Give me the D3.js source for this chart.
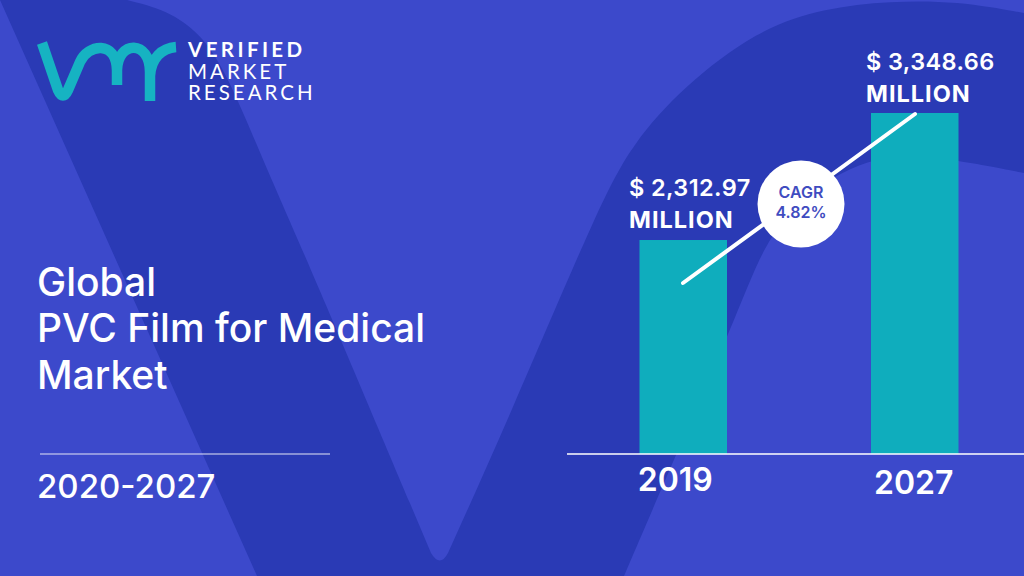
<!DOCTYPE html>
<html lang="en">
<head>
  <meta charset="UTF-8">
  <title>Global PVC Film for Medical Market</title>
  <script src="https://d3js.org/d3.v7.min.js"></script>
  <style>
    html, body { margin: 0; padding: 0; background: #3c49cb; overflow: hidden; }
    svg { display: block; }
    text { fill: #fff; font-family: Inter, "Noto Sans", sans-serif; }
    .title { font-size: 39px; font-weight: 500; }
    .period { font-size: 33px; font-weight: 500; }
    .value { font-size: 23.5px; font-weight: 600; letter-spacing: 0.4px; }
    .logo { font-family: Lato, sans-serif; font-size: 20.5px; letter-spacing: 3px; }
    .axis text { font-size: 32px; font-weight: 600; }
    .cagr { fill: #3f4cc0; font-size: 16px; font-weight: 600; text-anchor: middle; }
  </style>
</head>
<body>
  <svg width="1024" height="576"></svg>

  <script>
    const years = ["2019", "2027"];
    const marketSize = [2312.97, 3348.66];
    const valueLines = [["$ 2,312.97", "MILLION"], ["$ 3,348.66", "MILLION"]];
    const titleLines = ["Global", "PVC Film for Medical", "Market"];
    const period = "2020-2027";
    const cagrLines = ["CAGR", "4.82%"];
    const logoLines = ["VERIFIED", "MARKET", "RESEARCH"];

    const svg = d3.select("svg");

    // background V, outline
    const outline = d3.line().curve(d3.curveBasis);
    const upperEdge = [[448, 553], [508, 420], [600, 203], [633, 143], [683, 87], [757, 30], [824, 8], [890, 1], [957, 1], [1024, 13]];
    const lowerEdge = [[1024, 173], [933, 155], [867, 156], [800, 197], [763, 247], [743, 300], [676, 455], [624, 576]];
    const leftEdge = [[431, 553], [303, 250], [267, 170], [227, 73], [200, 33], [167, 10], [127, 0]];

    svg.append("rect").attr("width", 1024).attr("height", 576).attr("fill", "#3c49cb");
    svg.append("path")
      .attr("fill", "#2a3ab5")
      .attr("d", "M0 0 L257 576 L624 576 " + outline(lowerEdge.slice().reverse()).replace("M", "L") + " L1024 173 L1024 13 "
        + outline(upperEdge.slice().reverse()).replace("M", "L") + " L448 553 Q440 568 431 553 " + outline(leftEdge).replace("M", "L") + " L127 0 Z");

    const baseline = 454;
    const x = d3.scaleBand().domain(years).range([639.5, 958.5]).paddingInner(0.622).paddingOuter(0);
    // the bars in the picture start well above zero
    const y = d3.scaleLinear().domain([568, 3348.66]).range([baseline, 113]);

    svg.selectAll(".bar")
      .data(marketSize)
      .enter().append("rect")
      .attr("class", "bar")
      .attr("fill", "#0fadbd")
      .attr("x", (d, i) => x(years[i]))
      .attr("y", d => y(d))
      .attr("width", x.bandwidth())
      .attr("height", d => baseline - y(d));

    // axis
    const axis = svg.append("g")
      .attr("class", "axis")
      .attr("transform", `translate(0,${baseline})`)
      .call(d3.axisBottom(x).tickSize(0).tickPadding(0));
    axis.select(".domain").remove();
    axis.append("line").attr("x1", 567).attr("x2", 1024).attr("stroke", "#fff").attr("stroke-width", 1.5);
    axis.selectAll(".tick text")
      .attr("dy", 0)
      .attr("fill", "#fff")
      .attr("x", (d, i) => [-8, -1][i])
      .attr("y", (d, i) => [37, 40][i]);
    axis.attr("font-family", null).attr("font-size", null);

    // trend line and CAGR badge
    svg.append("line")
      .attr("x1", 683).attr("y1", 283).attr("x2", 915).attr("y2", 114)
      .attr("stroke", "#fff").attr("stroke-width", 4).attr("stroke-linecap", "round");
    svg.append("circle").attr("cx", 801).attr("cy", 204).attr("r", 43.5).attr("fill", "#fff");
    svg.selectAll(".cagr")
      .data(cagrLines)
      .enter().append("text")
      .attr("class", "cagr")
      .attr("x", 801)
      .attr("y", (d, i) => 198 + i * 20)
      .text(d => d);

    // value labels
    const valueX = [629, 866];
    const valueY = [196, 70];
    valueLines.forEach((lines, i) => {
      lines.forEach((t, j) => {
        svg.append("text").attr("class", "value")
          .attr("x", valueX[i])
          .attr("y", valueY[i] + j * 31.5)
          .style("letter-spacing", j == 1 ? "1px" : null)
          .style("font-weight", j == 1 ? 700 : null)
          .text(t);
      });
    });

    // title block
    svg.selectAll(".title")
      .data(titleLines)
      .enter().append("text")
      .attr("class", "title")
      .attr("x", 37)
      .attr("y", (d, i) => 295.5 + i * 46.5)
      .text(d => d);
    svg.append("line")
      .attr("x1", 40).attr("x2", 330).attr("y1", 454).attr("y2", 454)
      .attr("stroke", "#e4e6f6").attr("stroke-width", 1.2);
    svg.append("text").attr("class", "period").attr("x", 37).attr("y", 497.5).text(period);

    // logo
    svg.append("path")
      .attr("fill", "none")
      .attr("stroke", "#16b3c2")
      .attr("stroke-width", 10.5)
      .attr("d", "M42 43 L58 90 Q63 101 68 90 L80 62 C88 44 116 40 117 70 L117 85 M117 70 C118 40 150 40 150 72 L150 101 M150 76 C151 58 162 48 176 47");
    svg.selectAll(".logo")
      .data(logoLines)
      .enter().append("text")
      .attr("class", "logo")
      .attr("x", 188)
      .attr("y", (d, i) => 57 + i * 21.7)
      .attr("font-weight", (d, i) => i == 0 ? 700 : 400)
      .style("letter-spacing", (d, i) => i == 0 ? "3.4px" : "3px")
      .text(d => d);
  </script>
</body>
</html>
